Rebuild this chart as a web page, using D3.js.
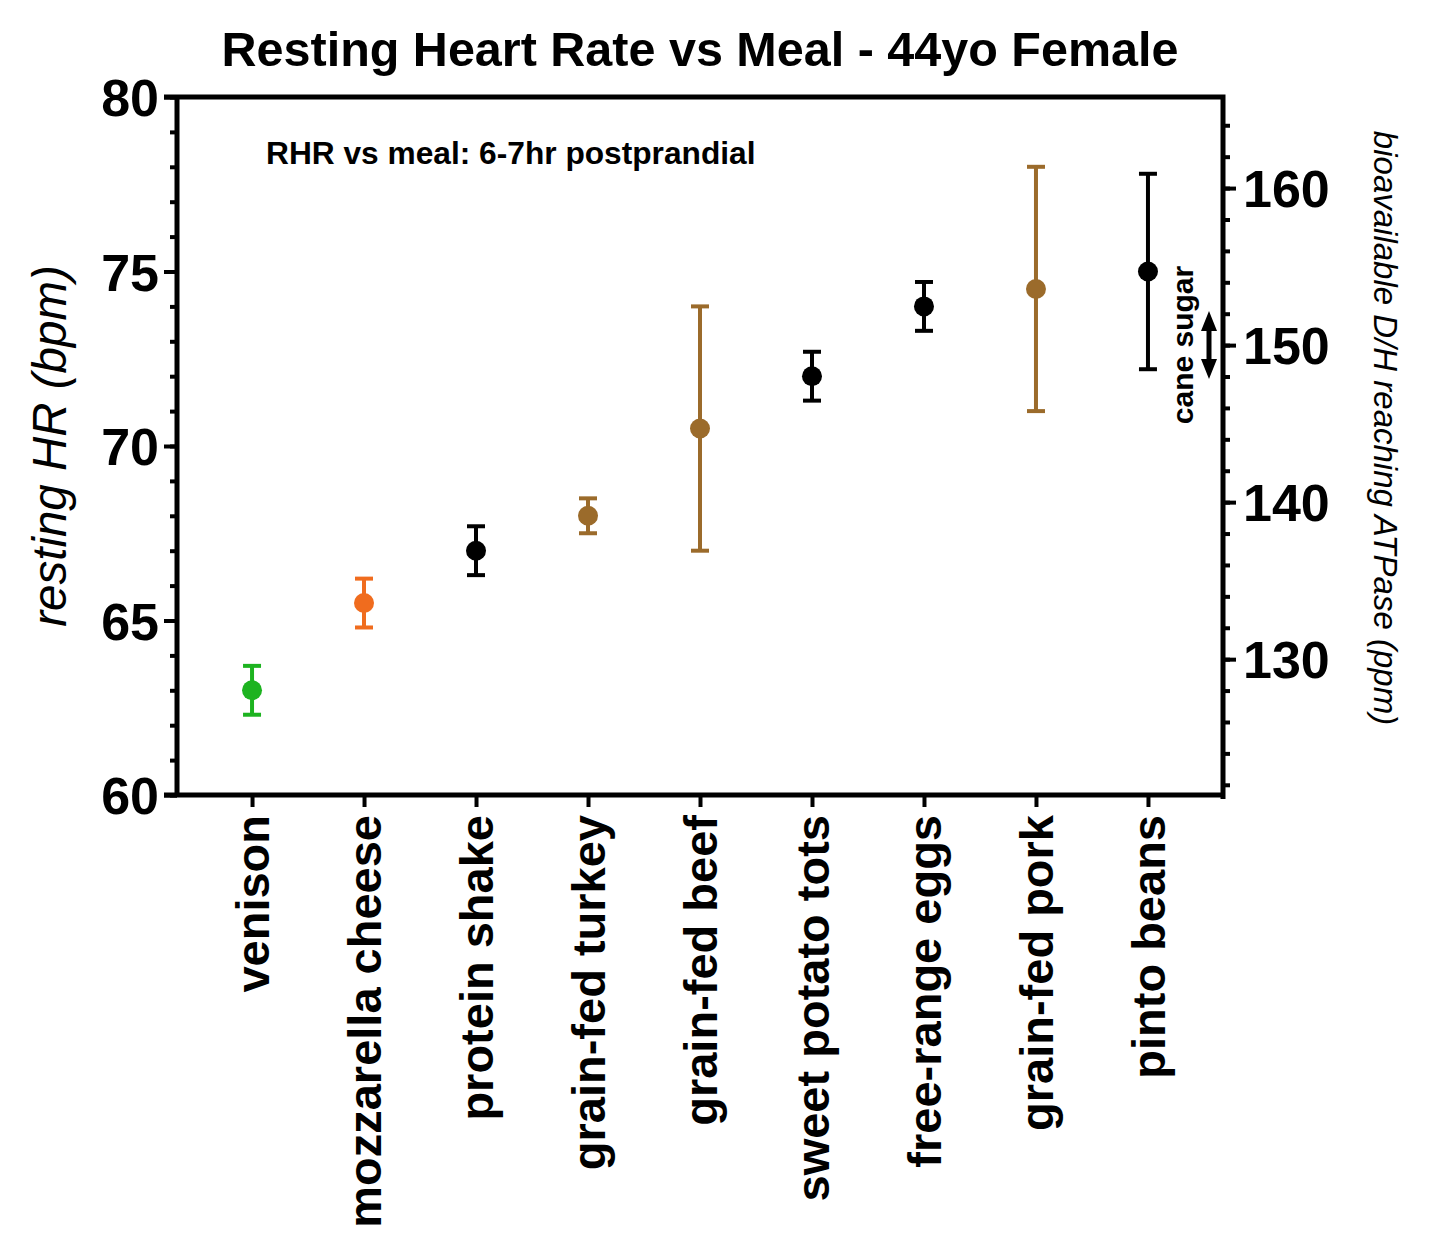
<!DOCTYPE html>
<html>
<head>
<meta charset="utf-8">
<script src="https://cdn.jsdelivr.net/npm/d3@7"></script>
<style>
  body { margin: 0; background: #fff; }
  text { font-family: "Liberation Sans", Arial, sans-serif; fill: #000; }
</style>
</head>
<body>
<div id="chart"></div>
<script>
// values
var meals = ["venison", "mozzarella cheese", "protein shake", "grain-fed turkey",
  "grain-fed beef", "sweet potato tots", "free-range eggs", "grain-fed pork", "pinto beans"];
var rhr = [63, 65.5, 67, 68, 70.5, 72, 74, 74.5, 75];
var rhrLow = [62.3, 64.8, 66.3, 67.5, 67, 71.3, 73.3, 71, 72.2];
var rhrHigh = [63.7, 66.2, 67.7, 68.5, 74, 72.7, 74.7, 78, 77.8];
var dotColors = ["#1db320", "#f06c1e", "#000", "#9b6b2b", "#9b6b2b", "#000", "#000", "#9b6b2b", "#000"];
var leftTicks = [60, 65, 70, 75, 80];
var rightTicks = [130, 140, 150, 160];

var width = 1430,
    height = 1248;

var pLeft = 177, pRight = 1223, pTop = 97, pBottom = 795;

var svg = d3.select("#chart").append("svg")
    .attr("width", width)
    .attr("height", height);

var x = d3.scalePoint()
    .domain(meals)
    .range([pLeft, pRight])
    .padding(0.67);

var y = d3.scaleLinear()
    .domain([60, 80])
    .range([pBottom, pTop]);

var y2 = d3.scaleLinear()
    .domain([121.35, 165.8])
    .range([pBottom, pTop]);

// title
svg.append("text")
    .attr("x", 700)
    .attr("y", 66)
    .attr("text-anchor", "middle")
    .style("font-size", "48.5px")
    .style("font-weight", "bold")
    .text("Resting Heart Rate vs Meal - 44yo Female");

// left axis: minor ticks every 1 bpm, labels every 5
var gL = svg.append("g").attr("transform", "translate(" + pLeft + ",0)");
gL.call(d3.axisLeft(y).tickValues(d3.range(60, 81, 1)).tickSize(7).tickFormat(""));
gL.append("g").call(d3.axisLeft(y).tickValues(leftTicks).tickSize(13).tickPadding(5));
gL.selectAll(".domain").remove();
gL.selectAll("line").attr("stroke", "#000").attr("stroke-width", 4);
gL.selectAll("text")
    .style("font-size", "52px")
    .style("font-weight", "bold")
    .style("font-family", "Liberation Sans, Arial, sans-serif")
    .attr("fill", "#000")
    .attr("dy", "0.36em");

// right axis: minor every 2 ppm, labels every 10
var gR = svg.append("g").attr("transform", "translate(" + pRight + ",0)");
gR.call(d3.axisRight(y2).tickValues(d3.range(122, 165, 2)).tickSize(7).tickFormat(""));
gR.append("g").call(d3.axisRight(y2).tickValues(rightTicks).tickSize(13).tickPadding(7));
gR.selectAll(".domain").remove();
gR.selectAll("line").attr("stroke", "#000").attr("stroke-width", 4);
gR.selectAll("text")
    .style("font-size", "52px")
    .style("font-weight", "bold")
    .style("font-family", "Liberation Sans, Arial, sans-serif")
    .attr("fill", "#000")
    .attr("dy", "0.36em");

// bottom axis
var gB = svg.append("g").attr("transform", "translate(0," + pBottom + ")");
gB.call(d3.axisBottom(x).tickSize(12).tickSizeOuter(0));
gB.select(".domain").remove();
gB.selectAll("line").attr("stroke", "#000").attr("stroke-width", 4);
gB.selectAll("text")
    .style("font-size", "47px")
    .style("font-weight", "bold")
    .style("font-family", "Liberation Sans, Arial, sans-serif")
    .attr("fill", "#000")
    .attr("text-anchor", "end")
    .attr("transform", "translate(0,20) rotate(-90)")
    .attr("x", 0)
    .attr("y", 0)
    .attr("dy", "0.35em");

// frame lines
svg.append("path")
    .attr("d", "M" + (pLeft - 13) + "," + pTop + "H" + pRight + "V" + (pBottom + 4) +
      "M" + (pLeft - 13) + "," + pBottom + "H" + pRight + "M" + pLeft + "," + pTop + "V" + pBottom)
    .attr("fill", "none")
    .attr("stroke", "#000")
    .attr("stroke-width", 5);

// axis titles
svg.append("text")
    .attr("transform", "translate(66,446) rotate(-90)")
    .attr("text-anchor", "middle")
    .style("font-size", "47.5px")
    .style("font-style", "italic")
    .text("resting HR (bpm)");

svg.append("text")
    .attr("transform", "translate(1374,428) rotate(90)")
    .attr("text-anchor", "middle")
    .style("font-size", "33px")
    .style("font-style", "italic")
    .text("bioavailable D/H reaching ATPase (ppm)");

// annotation
svg.append("text")
    .attr("x", 266)
    .attr("y", 164)
    .style("font-size", "31.7px")
    .style("font-weight", "bold")
    .text("RHR vs meal: 6-7hr postprandial");

// error bars
var bars = svg.append("g").selectAll("g")
    .data(meals)
  .enter().append("g")
    .attr("stroke", function(d, i) { return dotColors[i]; })
    .attr("stroke-width", 4);

bars.append("line")
    .attr("x1", function(d) { return x(d); })
    .attr("x2", function(d) { return x(d); })
    .attr("y1", function(d, i) { return y(rhrLow[i]); })
    .attr("y2", function(d, i) { return y(rhrHigh[i]); });

bars.append("line")
    .attr("x1", function(d) { return x(d) - 9; })
    .attr("x2", function(d) { return x(d) + 9; })
    .attr("y1", function(d, i) { return y(rhrLow[i]); })
    .attr("y2", function(d, i) { return y(rhrLow[i]); });

bars.append("line")
    .attr("x1", function(d) { return x(d) - 9; })
    .attr("x2", function(d) { return x(d) + 9; })
    .attr("y1", function(d, i) { return y(rhrHigh[i]); })
    .attr("y2", function(d, i) { return y(rhrHigh[i]); });

svg.append("g").selectAll("circle")
    .data(meals)
  .enter().append("circle")
    .attr("cx", function(d) { return x(d); })
    .attr("cy", function(d, i) { return y(rhr[i]); })
    .attr("r", 10)
    .attr("fill", function(d, i) { return dotColors[i]; });

// cane sugar marker on the ppm axis
svg.append("text")
    .attr("transform", "translate(1193,345) rotate(-90)")
    .attr("text-anchor", "middle")
    .style("font-size", "30px")
    .style("font-weight", "bold")
    .text("cane sugar");

var ax = 1209, aTop = 311, aBot = 379;
svg.append("line")
    .attr("x1", ax).attr("x2", ax)
    .attr("y1", aTop + 16).attr("y2", aBot - 16)
    .attr("stroke", "#000")
    .attr("stroke-width", 5);
svg.append("path")
    .attr("d", "M" + ax + "," + aTop + "l-8,20h16z M" + ax + "," + aBot + "l-8,-20h16z")
    .attr("fill", "#000");
</script>
</body>
</html>
